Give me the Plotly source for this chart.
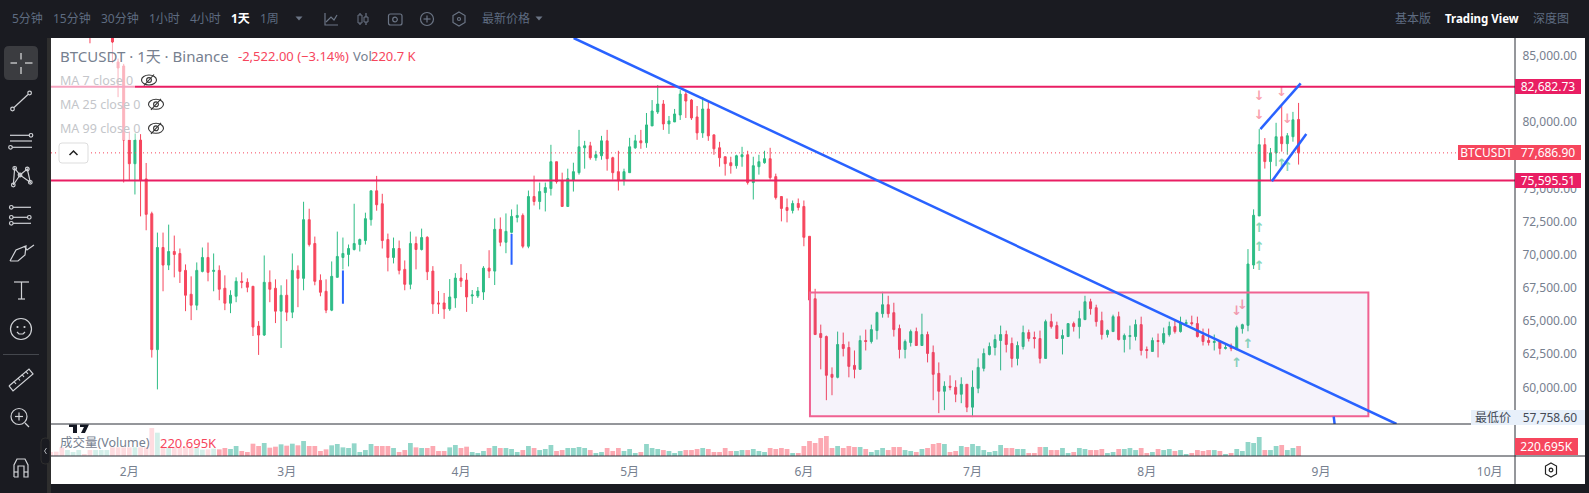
import pandas as pd
import plotly.graph_objects as go

W, H = 1589, 493

# daily candles, 18 Jan - 28 Aug (first rows sit above the visible range)
dates = pd.date_range("2026-01-18", periods=223, freq="D")

opens = [
    95300, 94700, 93700, 90600, 91200, 91500, 91800, 91100, 87500, 88400, 89000, 89600, 84540, 84240,
    78650, 76870, 78650, 75720, 73100, 62850, 70550, 69225, 70250, 70100, 68825, 67025, 66200, 68750,
    69800, 68750, 68825, 67475, 66350, 66875, 68000, 67925, 67625, 64625, 63950, 67925, 67475, 65750,
    66950, 65675, 68825, 68225, 72650, 70850, 68075, 67250, 65825, 68300, 69800, 70025, 70400, 70775, 71075,
    72650, 74825, 73850, 71150, 69800, 70475, 68900, 67775, 70850, 70400, 71320, 68770, 66370, 66370, 65920, 66745,
    68245, 68095, 66895, 66895, 67195, 68995, 68770, 71920, 70945, 71695, 72820, 72970, 70645, 74395, 74020,
    74695, 74995, 77020, 75595, 73645, 75595, 76195, 78070, 78220, 77320, 77470, 78595, 77320, 76270, 75595,
    76195, 78070, 78595, 78445, 79720, 80770, 81370, 79870, 80020, 80545, 82120, 81670, 80395, 79195, 80995,
    79045, 78070, 77395, 76945, 76720, 77395, 77545, 75445, 76645, 76945, 77245, 75895, 74395, 73570, 73345, 73870,
    73645, 71395, 66685, 64060, 63835, 60985, 60760, 63235, 63010, 61660, 61360, 63535, 63460, 64285, 65560,
    66235, 65635, 64435, 62860, 63385, 64210, 63160, 63985, 62635, 61060, 59710, 60085, 60010, 59485, 60235,
    58510, 59935, 61435, 62485, 63010, 63535, 63985, 63310, 62185, 63085, 64135, 63760, 63685, 62185, 64960,
    64660, 63685, 63835, 64810, 64585, 65110, 66460, 66010, 65035, 63985, 64210, 65335, 63610, 63835, 63835, 64735,
    62860, 62710, 63535, 63385, 63985, 64585, 64210, 64810, 64885, 64810, 63910, 63535, 63385, 63460, 62935,
    63105, 62855, 64430, 64680, 69230, 72930, 78305, 77030, 77680, 78905, 78380, 78905, 80208.9,
]
highs = [
    95800, 95200, 94000, 91700, 91900, 92100, 92000, 91300, 89000, 89500, 90000, 90000, 84800, 84400,
    79300, 79150, 79100, 76925, 73250, 71675, 71675, 72275, 71450, 70475, 69275, 68375, 69425, 70550,
    70925, 70100, 69200, 68450, 67325, 68300, 68675, 68225, 67625, 65000, 69950, 68825, 68150, 67700,
    68150, 70100, 69200, 74000, 73475, 71375, 68525, 68150, 69500, 71750, 71300, 70775, 73850, 71225, 73175,
    74825, 75950, 74600, 71600, 71300, 71075, 69575, 71750, 71375, 71975, 71400, 69145, 67270, 67120, 68170, 68620,
    69295, 68620, 67345, 67570, 69145, 70345, 72745, 72820, 73120, 73420, 73795, 73120, 74845, 75970, 75445,
    75445, 78295, 77020, 76195, 76495, 76945, 79420, 78595, 78520, 77845, 78970, 79420, 77395, 77845, 76495,
    78820, 79045, 79420, 80695, 81670, 82795, 81670, 80470, 81000, 82420, 82270, 81745, 81220, 81895, 81595,
    79045, 78520, 77395, 77395, 77545, 78145, 77845, 77395, 77545, 77845, 78070, 76120, 74395, 74245, 74095, 74245,
    74095, 71395, 67435, 64735, 63910, 61510, 64210, 64135, 63460, 62785, 63910, 64360, 64735, 65710, 67210,
    66910, 66385, 64735, 63610, 64360, 64510, 65560, 64210, 63160, 61885, 60460, 60910, 60535, 60760, 60235,
    61285, 62185, 62935, 63385, 63985, 64660, 64285, 63760, 63460, 64660, 64360, 64210, 64285, 65110, 65560,
    64960, 64360, 64810, 64960, 65785, 66910, 66685, 66235, 65710, 64360, 65485, 65710, 64060, 64660, 65110, 65335,
    63085, 63760, 64060, 64510, 64960, 65035, 65335, 65110, 65410, 65335, 64435, 64435, 63985, 63535, 63310,
    63305, 64655, 64805, 70430, 73430, 79480, 78805, 78055, 79955, 81230, 79180, 80780, 81455,
]
lows = [
    94300, 93400, 90200, 89900, 90800, 90500, 90900, 85920, 87000, 87800, 88500, 84460, 81890, 75450,
    75600, 74550, 72900, 71850, 62250, 59850, 67250, 68850, 68300, 67875, 65750, 65075, 65825, 68675,
    68000, 67250, 66575, 65825, 65600, 66425, 67475, 67175, 63875, 62450, 63875, 66425, 64850, 62975,
    65000, 65225, 66050, 67325, 70625, 67700, 66875, 65600, 65750, 68300, 68900, 69125, 70325, 70250, 70775,
    72200, 73325, 70475, 68750, 69350, 68525, 67325, 67400, 68900, 70325, 68095, 65545, 65545, 65170, 65770, 66000,
    67570, 65695, 66295, 66745, 66595, 68245, 67720, 70645, 70120, 71620, 72445, 70495, 70495, 73720, 73420,
    73270, 74470, 75370, 73645, 73645, 74770, 76045, 76495, 77170, 77095, 77170, 76345, 75670, 74845, 75220,
    76195, 77995, 77995, 78070, 79720, 80620, 79420, 79120, 80020, 80170, 80320, 80170, 78670, 78820, 78595,
    77545, 76645, 75970, 76120, 76495, 76645, 75295, 74170, 76045, 76870, 75670, 74170, 72520, 72445, 73120, 73345,
    70645, 66090, 63985, 61360, 59035, 59410, 60685, 62335, 60760, 60685, 61360, 62785, 63310, 63610, 65260,
    65260, 63835, 62185, 62185, 63085, 63160, 63160, 61885, 59035, 58060, 58285, 59785, 58885, 58810, 58135,
    57758.6, 59560, 61210, 62410, 62410, 61285, 62635, 61510, 61660, 62860, 63460, 62935, 61810, 62185, 64435,
    63685, 62485, 63835, 64210, 63685, 65110, 65485, 64585, 63610, 63760, 64210, 63535, 62635, 62860, 63535, 62410,
    62185, 62710, 62260, 63235, 63835, 64060, 64135, 64735, 64660, 63760, 63160, 63160, 62785, 62485, 62860,
    62730, 62805, 64055, 64230, 68930, 72930, 76505, 75555, 76680, 77780, 77555, 78530, 76805,
]
closes = [
    94700, 93700, 90600, 91200, 91500, 91800, 91100, 87500, 88400, 89000, 89600, 86050, 84090, 78650,
    76870, 78650, 75650, 73050, 62850, 70550, 69225, 70250, 70025, 68750, 66950, 66200, 68825, 69800,
    68675, 68825, 67400, 66350, 66950, 68000, 67925, 67550, 64550, 63950, 67925, 67400, 65750, 66950,
    65675, 68825, 68225, 72650, 70775, 68000, 67175, 65825, 68375, 69875, 70100, 70475, 70850, 71150, 72725,
    74825, 73775, 71075, 69800, 70475, 68825, 67775, 70850, 70400, 71300, 68720, 66295, 66295, 65920, 66820, 68245,
    68020, 66820, 66970, 67270, 68995, 68770, 71920, 70945, 71770, 72895, 72970, 70645, 74395, 74020, 74770,
    75070, 77020, 75520, 73645, 75745, 76270, 78145, 78220, 77320, 77545, 78595, 77245, 76195, 75595, 76270,
    78145, 78595, 78445, 79795, 80845, 81370, 79870, 80095, 80620, 82120, 81595, 80320, 79195, 80995, 78970,
    77995, 77320, 76870, 76720, 77470, 77545, 75445, 76720, 77020, 77245, 75820, 74320, 73495, 73345, 73870, 73570,
    71320, 66590, 63985, 63760, 60910, 60760, 63235, 62935, 61585, 61360, 63535, 63460, 64360, 65635, 66235,
    65560, 64360, 62860, 63460, 64210, 63160, 63985, 62560, 60985, 59710, 60085, 60010, 59485, 60235, 58510,
    60010, 61510, 62560, 63085, 63610, 63985, 63235, 62185, 63160, 64135, 63685, 63685, 62185, 64960, 64585,
    63685, 63910, 64810, 64585, 65185, 66460, 65935, 64960, 63985, 64285, 65335, 63610, 63910, 63910, 64735, 62785,
    62785, 63535, 63460, 64060, 64585, 64210, 64885, 64885, 64810, 63835, 63460, 63385, 63460, 62935, 63010,
    62930, 64505, 64730, 69305, 72980, 78305, 77030, 77680, 78905, 78380, 78980, 80180, 77686.9,
]
volumes = [
    88, 96, 191, 132, 88, 132, 37, 132, 132, 132, 132, 191, 191, 191,
    191, 191, 191, 191, 618, 515, 206, 177, 206, 191, 206, 206, 177, 140,
    147, 162, 147, 177, 155, 221, 110, 88, 272, 221, 287, 184, 206, 258,
    228, 272, 236, 331, 221, 221, 110, 147, 236, 265, 191, 177, 280, 88, 132,
    265, 221, 221, 221, 177, 88, 132, 287, 191, 177, 177, 221, 110, 110, 191, 243,
    177, 206, 88, 66, 110, 177, 221, 177, 177, 155, 88, 132, 221, 177, 132,
    155, 243, 110, 132, 177, 177, 199, 177, 132, 66, 88, 177, 110, 177, 110,
    155, 66, 88, 265, 177, 155, 132, 110, 66, 110, 132, 132, 155, 177, 155,
    88, 88, 177, 110, 110, 132, 132, 155, 110, 88, 177, 155, 177, 155, 66, 66,
    221, 331, 287, 397, 442, 177, 221, 177, 221, 199, 199, 155, 88, 132, 177,
    132, 199, 199, 132, 110, 88, 155, 177, 265, 287, 265, 88, 110, 221, 199,
    265, 221, 132, 88, 110, 243, 177, 177, 155, 155, 66, 66, 199, 199, 132,
    132, 177, 66, 88, 177, 155, 132, 132, 155, 66, 88, 155, 155, 177, 132, 177,
    66, 88, 155, 132, 155, 110, 132, 44, 66, 132, 110, 132, 132, 110, 44,
    66, 155, 110, 309, 287, 420, 132, 132, 221, 243, 132, 177, 220.695,
]

# 77,500 and 82,500 would sit fully under the price tags, so they are left out
y_ticks = [60000, 62500, 65000, 67500, 70000, 72500, 75000, 80000, 85000]
month_ticks = ["2026-02-01", "2026-03-01", "2026-04-01", "2026-05-01", "2026-06-01",
               "2026-07-01", "2026-08-01", "2026-09-01", "2026-10-01"]
month_labels = ["2月", "3月", "4月", "5月", "6月", "7月", "8月", "9月", "10月"]

resistance = 82682.73
support = 75595.51
last_price = 77686.90
low_price = 57758.60
last_volume = 220.695

box_x = ["2026-06-02 02:00", "2026-09-09 10:00"]
box_y = [67150, 57830]
trend_x = ["2026-04-21 01:00", "2026-09-14 10:00"]
trend_y = [86350, 57240]
trend2_x = ["2026-09-03 06:00", "2026-09-03 10:00"]
trend2_y = [57800, 57240]
chan_up_x = ["2026-08-21 05:00", "2026-08-28 09:00"]
chan_up_y = [79480, 82930]
chan_lo_x = ["2026-08-23 06:00", "2026-08-29 09:00"]
chan_lo_y = [75555, 79105]
blue1_x, blue1_y = "2026-03-11", [68820, 66310]
blue2_x, blue2_y = "2026-04-10", [71580, 69250]

down_x = ["2026-08-21", "2026-08-21", "2026-08-25", "2026-08-26", "2026-08-17", "2026-08-18"]
down_y = [81930, 80505, 82230, 80180, 65680, 66130]
up_x = ["2026-08-21", "2026-08-21", "2026-08-21", "2026-08-19", "2026-08-17", "2026-08-25", "2026-08-26"]
up_y = [71980, 70555, 69130, 63180, 61805, 76755, 76555]

RED = "#F6465D"
GREEN = "#2EBD85"
VOL_RED = "#FCA9B2"
VOL_GREEN = "#92D6C9"
PINK = "#E91E63"
BLUE = "#2962FF"
DARK = "#1A1B21"
AXIS = "#2B2F36"
GREY = "#76808F"
BAR_TEXT = "#5E6B80"
ICON = "#D0D2D6"
TOP_ICON = "#6B7585"
FONT = "Noto Sans, Noto Sans CJK SC, sans-serif"


def px(x):
    return x / W


def py(y):
    return 1 - y / H


def line(x0, y0, x1, y1, color=ICON, width=1.2):
    return dict(type="line", xref="paper", yref="paper", x0=px(x0), y0=py(y0), x1=px(x1), y1=py(y1),
                line=dict(color=color, width=width))


def circle(cx, cy, rx, ry=None, color=ICON, width=1.2, fill="rgba(0,0,0,0)"):
    ry = rx if ry is None else ry
    return dict(type="circle", xref="paper", yref="paper", x0=px(cx - rx), y0=py(cy - ry),
                x1=px(cx + rx), y1=py(cy + ry), line=dict(color=color, width=width), fillcolor=fill)


def rect(x0, y0, x1, y1, fill, layer="above", edge=None):
    return dict(type="rect", xref="paper", yref="paper", x0=px(x0), y0=py(y0), x1=px(x1), y1=py(y1),
                fillcolor=fill, line=dict(color=edge or "rgba(0,0,0,0)", width=1 if edge else 0), layer=layer)


def poly(points, color=ICON, width=1.2, fill="rgba(0,0,0,0)", close=False):
    p = "M " + " L ".join(f"{px(a):.5f} {py(b):.5f}" for a, b in points)
    if close:
        p += " Z"
    return dict(type="path", xref="paper", yref="paper", path=p, fillcolor=fill,
                line=dict(color=color, width=width))


def rrect(x0, y0, x1, y1, r, fill, edge="rgba(0,0,0,0)", width=0):
    a, b, c, d = px(x0), py(y0), px(x1), py(y1)
    rx, ry = r / W, r / H
    p = (f"M {a + rx} {b} L {c - rx} {b} Q {c} {b} {c} {b - ry} L {c} {d + ry} Q {c} {d} {c - rx} {d} "
         f"L {a + rx} {d} Q {a} {d} {a} {d + ry} L {a} {b - ry} Q {a} {b} {a + rx} {b} Z")
    return dict(type="path", xref="paper", yref="paper", path=p, fillcolor=fill, line=dict(color=edge, width=width))


def label(x, y, text, size=12, color=GREY, anchor="left", family=FONT):
    return dict(xref="paper", yref="paper", x=px(x), y=py(y), text=text, showarrow=False, xanchor=anchor,
                yanchor="middle", font=dict(size=size, color=color, family=family), borderpad=0, borderwidth=0)


def tag(price, text, bg, x0=1515, width=66, height=15, color="white", size=12, yref="y"):
    return dict(xref="paper", yref=yref, x=px(x0), y=price, text=text, showarrow=False, xanchor="left",
                yanchor="middle", width=width, height=height, bgcolor=bg, align="center", valign="middle",
                font=dict(size=size, color=color, family=FONT), borderpad=0, borderwidth=0)


def data_line(xs, ys, color=BLUE, width=2.5, dash="solid"):
    return dict(type="line", xref="x", yref="y", x0=xs[0], x1=xs[1], y0=ys[0], y1=ys[1],
                line=dict(color=color, width=width, dash=dash))


def price_line(price, color, width, dash="solid"):
    return dict(type="line", xref="x domain", yref="y", x0=0, x1=1, y0=price, y1=price,
                line=dict(color=color, width=width, dash=dash))


vol_colors = [VOL_GREEN if c >= o else VOL_RED for o, c in zip(opens, closes)]

fig = go.Figure()
fig.add_trace(go.Candlestick(
    x=dates, open=opens, high=highs, low=lows, close=closes, whiskerwidth=0,
    increasing=dict(line=dict(color=GREEN, width=1), fillcolor=GREEN),
    decreasing=dict(line=dict(color=RED, width=1), fillcolor=RED),
    xaxis="x", yaxis="y",
))
fig.add_trace(go.Bar(x=dates, y=volumes, marker=dict(color=vol_colors, line=dict(width=0)), xaxis="x", yaxis="y2"))
fig.add_trace(go.Scatter(x=down_x, y=down_y, mode="text", text=["<b>↓</b>"] * len(down_x), xaxis="x", yaxis="y",
                         textfont=dict(size=13, color="#FA9FAE", family="DejaVu Sans")))
fig.add_trace(go.Scatter(x=up_x, y=up_y, mode="text", text=["<b>↑</b>"] * len(up_x), xaxis="x", yaxis="y",
                         textfont=dict(size=13, color="#86D9B9", family="DejaVu Sans")))

shapes = [
    # white panes behind the axis labels
    rect(1515, 38, 1585, 484, "white", layer="below"),
    rect(51, 456, 1515, 484, "white", layer="below"),
    rect(47, 38, 51, 493, "#2E2E2E", layer="below"),
    # drawings
    dict(type="rect", xref="x", yref="y", x0=box_x[0], x1=box_x[1], y0=box_y[0], y1=box_y[1],
         fillcolor="rgba(103,58,183,0.06)", line=dict(color="#F06292", width=2)),
    price_line(last_price, RED, 1, "1px,3px"),
    price_line(resistance, PINK, 2),
    price_line(support, PINK, 2),
    data_line(trend_x, trend_y),
    data_line(trend2_x, trend2_y),
    data_line(chan_up_x, chan_up_y),
    data_line(chan_lo_x, chan_lo_y),
    data_line([blue1_x, blue1_x], blue1_y, width=2),
    data_line([blue2_x, blue2_x], blue2_y, width=2),
    # faded legend backgrounds
    rect(51, 43, 135, 140, "rgba(255,255,255,0.6)"),
    rect(51, 424, 217, 456, "rgba(255,255,255,0.6)"),
    # pane separators
    line(1515, 38, 1515, 484, AXIS, 1),
    line(51, 424, 1585, 424, AXIS, 1),
    line(51, 456, 1585, 456, AXIS, 1),
    # cut-off logo
    poly([(69, 424.5), (77, 424.5), (77, 433), (73, 433), (73, 427), (69, 427)], "#131722", 0, "#131722", True),
    poly([(80, 424.5), (89, 424.5), (85, 433), (81, 433), (84, 427), (80, 427)], "#131722", 0, "#131722", True),
    # collapse button on the legend
    rrect(59, 143, 88, 163, 3, "white", "#DDDDDD", 1),
    poly([(69.5, 155), (73.5, 151), (77.5, 155)], "#222222", 1.5),
    # left toolbar
    rrect(4, 46, 38, 80, 5, "#3B3C40"),
    line(21, 53, 21, 59.5, "white", 1), line(21, 67, 21, 74, "white", 1),
    line(10.5, 63, 17, 63, "white", 1), line(25, 63, 32.5, 63, "white", 1),
    line(14, 107.5, 28, 94.5), circle(12.5, 109, 1.8), circle(29.6, 93, 1.8),
    line(10, 135.3, 29, 135.3), line(10, 141, 32, 141), line(12.5, 147.3, 32, 147.3),
    circle(31, 135.3, 1.8), circle(10.5, 147.3, 1.8),
    poly([(13.3, 185), (14.7, 168.3), (20, 175), (27.3, 169), (30.3, 182.3), (20, 175), (13.3, 185)]),
    circle(13.3, 185, 1.8), circle(14.7, 168.3, 1.8), circle(27.3, 169, 1.8), circle(30.3, 182.3, 1.8),
    circle(20, 175, 1.8),
    line(13, 207.3, 31, 207.3), line(13, 217.3, 28, 217.3), line(13, 223.3, 31, 223.3),
    circle(11.3, 207.3, 1.8), circle(11.3, 217.3, 1.8), circle(29.3, 217.3, 1.8), circle(11.3, 223.3, 1.8),
    poly([(10, 261), (16, 250), (26, 246), (25, 255), (18, 261), (10, 261)]),
    poly([(24, 246), (27, 250), (34, 245)]),
    line(14, 282, 14 + 15, 282), line(21.5, 282, 21.5, 299), line(18, 299, 25, 299),
    circle(21, 329, 10.5),
    circle(17.5, 327, 0.5), circle(24.5, 327, 0.5),
    poly([(17, 332), (19, 334), (23, 334), (25, 332)]),
    line(3, 354.5, 39, 354.5, "#44474D", 1),
    poly([(9, 386), (29, 369), (33, 374), (13, 391), (9, 386)]),
    line(14, 381.5, 16, 384), line(18, 378, 20, 380.5), line(22, 374.5, 24, 377), line(26, 371.5, 28, 374),
    circle(19, 416.5, 8), line(15, 416.5, 23, 416.5), line(19, 412.5, 19, 420.5), line(25, 423, 29, 427),
    poly([(14, 477), (14, 465), (17, 459), (25, 459), (28, 465), (28, 477), (24, 477), (24, 466), (18, 466),
          (18, 477), (14, 477)]),
    line(14, 472, 18, 472), line(24, 472, 28, 472),
    # pane collapse pill
    rrect(41, 438, 50, 464, 4, DARK, "#2E2E2E", 1),
    poly([(46.5, 448), (44.5, 451), (46.5, 454)], "#B0B3B8", 1),
    # top toolbar icons
    poly([(325, 13), (325, 25), (338, 25)], TOP_ICON), poly([(326, 22), (331, 17), (334, 20), (337, 15)], TOP_ICON),
    line(360, 13, 360, 25, TOP_ICON), line(366, 13, 366, 25, TOP_ICON),
    dict(rect(358, 15, 362, 23, DARK, edge=TOP_ICON)),
    dict(rect(364, 17, 368, 22, DARK, edge=TOP_ICON)),
    rrect(388.5, 14, 402, 25, 2, "rgba(0,0,0,0)", TOP_ICON, 1.2), circle(395, 19.5, 2.3, color=TOP_ICON),
    circle(427, 19, 6.5, color=TOP_ICON), line(423.5, 19, 430.5, 19, TOP_ICON), line(427, 15.5, 427, 22.5, TOP_ICON),
    poly([(459, 12), (465, 15.5), (465, 22.5), (459, 26), (453, 22.5), (453, 15.5)], TOP_ICON, close=True),
    circle(459, 19, 1.5, color=TOP_ICON),
    poly([(295.5, 16.5), (302.5, 16.5), (299, 20.5)], TOP_ICON, 0, TOP_ICON, True),
    poly([(535.5, 16.5), (542.5, 16.5), (539, 20.5)], TOP_ICON, 0, TOP_ICON, True),
    # settings icon
    poly([(1551, 463), (1556.5, 466), (1556.5, 474), (1551, 477), (1545.5, 474), (1545.5, 466)], "#222222", 1.2,
         close=True),
    circle(1551, 470, 1.8, color="#222222"),
]
# crossed-out eyes next to the MA rows
for ex, ey in [(149, 80), (156, 104.3), (156, 128.3)]:
    shapes += [circle(ex, ey, 7.5, 5, "#333333", 1.1), circle(ex, ey, 2.4, color="#333333", width=1.1),
               line(ex - 5, ey + 5.5, ex + 5, ey - 5.5, "#333333", 1.1)]

annotations = [
    label(60, 56, "BTCUSDT · 1天 · Binance", 15),
    label(238, 56, "-2,522.00 (−3.14%)", 13, RED),
    label(352.5, 56, "Vol", 13),
    label(371, 56, "220.7 K", 13, RED),
    label(60, 80, "MA 7 close 0", 12.5, "#C4C6CA"),
    label(60, 104.3, "MA 25 close 0", 12.5, "#C4C6CA"),
    label(60, 128.3, "MA 99 close 0", 12.5, "#C4C6CA"),
    label(60, 442.7, "成交量(Volume)", 12.5),
    label(160, 442.7, "220.695K", 13, RED),
    label(27.5, 19, "5分钟", 12, BAR_TEXT, "center"),
    label(72, 19, "15分钟", 12, BAR_TEXT, "center"),
    label(120, 19, "30分钟", 12, BAR_TEXT, "center"),
    label(164, 19, "1小时", 12, BAR_TEXT, "center"),
    label(205, 19, "4小时", 12, BAR_TEXT, "center"),
    label(240, 19, "<b>1天</b>", 12, "white", "center"),
    label(269, 19, "1周", 12, BAR_TEXT, "center"),
    label(506, 19, "最新价格", 12, BAR_TEXT, "center"),
    label(1413, 19, "基本版", 12, BAR_TEXT, "center"),
    label(1482, 19, "<b>Trading View</b>", 11.5, "white", "center"),
    label(1551, 19, "深度图", 12, BAR_TEXT, "center"),
    tag(resistance, "82,682.73", PINK),
    tag(support, "75,595.51", PINK),
    tag(last_price, "BTCUSDT", RED, x0=1458, width=57),
    tag(last_price, "77,686.90", RED),
    tag(low_price, "最低价", "#E8F0FA", x0=1471, width=44, color="#444B57"),
    tag(low_price, "57,758.60", "#E8F0FA", width=70, color="#444B57"),
    tag(last_volume, "220.695K", RED, width=63, height=17, yref="y2"),
]

x_left = pd.Timestamp("2026-02-01") + pd.Timedelta(days=-13.93)
x_right = pd.Timestamp("2026-02-01") + pd.Timedelta(days=246.5)

fig.update_layout(
    width=W, height=H, margin=dict(l=0, r=0, t=0, b=0),
    paper_bgcolor=DARK, plot_bgcolor="white", showlegend=False, boxgap=0.5, bargap=0.15,
    font=dict(family=FONT, color=GREY, size=12),
    xaxis=dict(domain=[px(51), px(1515)], range=[x_left, x_right], anchor="y2", type="date",
               tickvals=month_ticks, ticktext=month_labels, showgrid=False, zeroline=False,
               rangeslider=dict(visible=False), ticks="outside", ticklen=5, tickcolor="white",
               tickfont=dict(size=12, color=GREY, family=FONT)),
    yaxis=dict(domain=[py(424), py(38)], range=[57240, 86350], side="right", anchor="x",
               tickvals=y_ticks, tickformat=",.2f", showgrid=False, zeroline=False,
               ticks="outside", ticklen=4, tickcolor="white",
               tickfont=dict(size=12, color=GREY, family=FONT)),
    yaxis2=dict(domain=[py(456), py(424)], range=[0, 707], side="right", anchor="x",
                showticklabels=False, showgrid=False, zeroline=False),
    shapes=shapes, annotations=annotations,
)

fig.write_html("out.html", config=dict(displayModeBar=False),
               post_script="document.body.style.margin='0';document.body.style.overflow='hidden';")
